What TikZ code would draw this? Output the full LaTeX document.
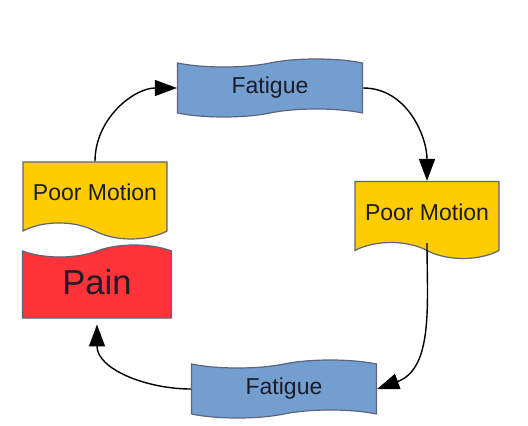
\documentclass[tikz,border=0pt]{standalone}
\usepackage{fontspec}
\setmainfont{Liberation Sans}
\usetikzlibrary{shapes.symbols,arrows.meta}

\definecolor{fatigueblue}{RGB}{114,159,207}
\definecolor{motionyellow}{RGB}{255,204,0}
\definecolor{painred}{RGB}{255,51,56}
\definecolor{boxline}{RGB}{92,100,128}
\definecolor{textdark}{RGB}{28,28,40}

\begin{document}
\begin{tikzpicture}[x=0.5pt, y=0.5pt, >={Triangle[length=11pt,width=8pt]},
	every box/.style={shape=tape, draw=boxline, line width=0.6pt, inner sep=0pt,
		text=textdark, font=\fontsize{11.5}{14}\selectfont},
	fatigue box/.style={fill=fatigueblue, minimum width=92.5pt, minimum height=29pt,
		tape bend height=4pt},
	motion box/.style={fill=motionyellow, minimum width=72pt, minimum height=38.5pt,
		tape bend top=none, tape bend bottom=out and in, tape bend height=8pt},
	pain box/.style={fill=painred, minimum width=74.5pt, minimum height=36.5pt,
		tape bend top=in and out, tape bend bottom=none, tape bend height=6pt,
		text depth=6pt, font=\fontsize{17.3}{20}\selectfont}]

	\useasboundingbox (0,0) rectangle (528,-426);

	\node [every box/.try, fatigue box/.try] (fatigue-1) at (270,-88) {Fatigue};
	\node [every box/.try, fatigue box/.try] (fatigue-2) at (284,-389) {Fatigue};
	\node [every box/.try, motion box/.try] (motion-1) at (95,-192.5) {Poor Motion};
	\node [every box/.try, motion box/.try] (motion-2) at (427,-212) {Poor Motion};
	\node [every box/.try, pain box/.try] (pain) at (97,-287.5) {Pain};

	\draw [->, line width=0.7pt] (motion-1.north) to [out=90, in=180] (fatigue-1.west);
	\draw [->, line width=0.7pt] (fatigue-1.east) to [out=0, in=90] (motion-2.north);
	\draw [->, line width=0.7pt] (motion-2.south) to [out=-90, in=20] (fatigue-2.east);
	\draw [->, line width=0.7pt] (fatigue-2.west) to [out=180, in=-90] (pain.south);

\end{tikzpicture}
\end{document}
